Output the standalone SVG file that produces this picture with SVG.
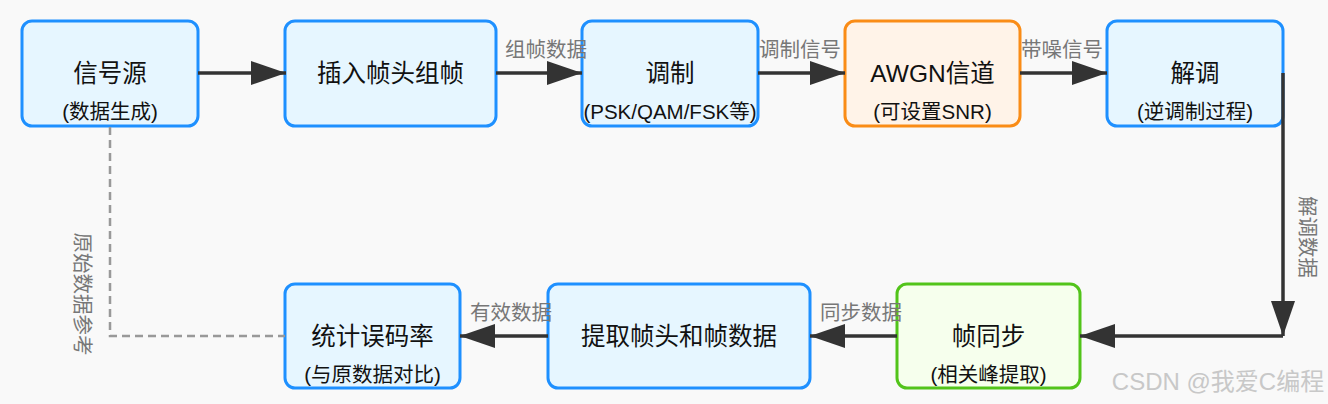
<svg xmlns="http://www.w3.org/2000/svg" width="1328" height="404" viewBox="0 0 1328 404">
<style>
  text { font-family: "Liberation Sans", "Noto Sans CJK SC", sans-serif; }
  .box { stroke-width: 3; }
  .blue { fill: #e6f6ff; stroke: #1e90ff; }
  .orange { fill: #fff3e8; stroke: #fa8c16; }
  .green { fill: #f6ffed; stroke: #52c41a; }
  .main { font-size: 24.5px; fill: #111; text-anchor: middle; dominant-baseline: central; }
  .sub { font-size: 20.5px; fill: #111; text-anchor: middle; dominant-baseline: central; }
  .lbl { font-size: 20.5px; fill: #777; text-anchor: middle; dominant-baseline: central; }
  .edge { fill: none; stroke: #333; stroke-width: 3.5; }
  .dash { fill: none; stroke: #999; stroke-width: 2.5; stroke-dasharray: 8 5; }
</style>
<defs>
  <marker id="arr" markerUnits="userSpaceOnUse" markerWidth="36" markerHeight="24" refX="35" refY="12" orient="auto">
    <path d="M0,0 L35,12 L0,24 z" fill="#333"/>
  </marker>
</defs>
<rect width="1328" height="404" fill="#f9f9f9"/>

<g id="n1">
  <rect class="box blue" x="22" y="21" width="176" height="105" rx="10"/>
  <text class="main" x="110" y="73">信号源</text>
  <text class="sub" x="110" y="111">(数据生成)</text>
</g>
<g id="n2">
  <rect class="box blue" x="285" y="21" width="211" height="105" rx="10"/>
  <text class="main" x="390.5" y="73">插入帧头组帧</text>
</g>
<g id="n3">
  <rect class="box blue" x="582" y="21" width="176" height="105" rx="10"/>
  <text class="main" x="670" y="73">调制</text>
  <text class="sub" x="670" y="111">(PSK/QAM/FSK等)</text>
</g>
<g id="n4">
  <rect class="box orange" x="845" y="21" width="175" height="105" rx="10"/>
  <text class="main" x="932.5" y="73">AWGN信道</text>
  <text class="sub" x="932.5" y="111">(可设置SNR)</text>
</g>
<g id="n5">
  <rect class="box blue" x="1107" y="21" width="176" height="105" rx="10"/>
  <text class="main" x="1195" y="73">解调</text>
  <text class="sub" x="1195" y="111">(逆调制过程)</text>
</g>
<g id="n6">
  <rect class="box green" x="897" y="284" width="183" height="104" rx="10"/>
  <text class="main" x="988.5" y="336">帧同步</text>
  <text class="sub" x="988.5" y="374">(相关峰提取)</text>
</g>
<g id="n7">
  <rect class="box blue" x="548" y="284" width="262" height="104" rx="10"/>
  <text class="main" x="679" y="336">提取帧头和帧数据</text>
</g>
<g id="n8">
  <rect class="box blue" x="285" y="284" width="175" height="104" rx="10"/>
  <text class="main" x="372.5" y="336">统计误码率</text>
  <text class="sub" x="372.5" y="374">(与原数据对比)</text>
</g>

<g id="connectors">
  <path class="edge" d="M198,73 H286" marker-end="url(#arr)"/>
  <path class="edge" d="M496,73 H582" marker-end="url(#arr)"/>
  <path class="edge" d="M758,73 H845" marker-end="url(#arr)"/>
  <path class="edge" d="M1020,73 H1107" marker-end="url(#arr)"/>
  <path class="edge" d="M1283,73 V336" marker-end="url(#arr)"/>
  <path class="edge" d="M1283,336 H1080" marker-end="url(#arr)"/>
  <path class="edge" d="M897,336 H810" marker-end="url(#arr)"/>
  <path class="edge" d="M548,336 H460" marker-end="url(#arr)"/>
  <path class="dash" d="M110,127 V336 H285"/>
  <text class="lbl" x="546" y="49">组帧数据</text>
  <text class="lbl" x="800" y="49">调制信号</text>
  <text class="lbl" x="1062" y="49">带噪信号</text>
  <text class="lbl" transform="translate(1307,237) rotate(90)" x="0" y="0">解调数据</text>
  <text class="lbl" x="861" y="312">同步数据</text>
  <text class="lbl" x="511" y="312">有效数据</text>
  <text class="lbl" transform="translate(82,294) rotate(90)" x="0" y="0">原始数据参考</text>
</g>

<text x="1218" y="381" style="font-size:24px;fill:#c8c8c8;text-anchor:middle;dominant-baseline:central;">CSDN @我爱C编程</text>
</svg>
